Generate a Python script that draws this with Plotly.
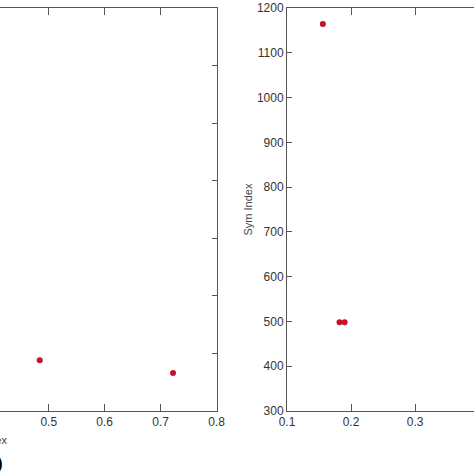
import plotly.graph_objects as go

# Left panel (partially visible)
left_x = [0.484, 0.722]
left_y = [88, 66]
# Right panel
right_x = [0.156, 0.182, 0.190]
right_y = [1164, 498, 498]

W = H = 474
red = "#c8102e"
axcol = "#555555"
tickfont = dict(family="Liberation Sans, Arial, sans-serif", size=12, color="#333333")
titlefont = dict(family="Liberation Sans, Arial, sans-serif", size=11, color="#444444")

fig = go.Figure()
fig.add_trace(go.Scatter(x=left_x, y=left_y, mode="markers", xaxis="x", yaxis="y",
                         marker=dict(color=red, size=6), showlegend=False, hoverinfo="skip"))
fig.add_trace(go.Scatter(x=right_x, y=right_y, mode="markers", xaxis="x2", yaxis="y2",
                         marker=dict(color=red, size=6), showlegend=False, hoverinfo="skip"))

ytop = 1 - 8 / H
ybot = 1 - 411 / H

fig.update_layout(
    width=W, height=H,
    margin=dict(l=0, r=0, t=0, b=0, autoexpand=False),
    paper_bgcolor="white", plot_bgcolor="white",
    xaxis=dict(domain=[0, 216.7 / W], range=[0.413, 0.8], tickvals=[0.5, 0.6, 0.7, 0.8],
               ticktext=["0.5", "0.6", "0.7", "0.8"],
               showgrid=False, zeroline=False, showline=True, linecolor=axcol, linewidth=1,
               mirror="allticks", ticks="inside", ticklen=7, tickcolor=axcol, tickfont=tickfont,
               anchor="y"),
    yaxis=dict(domain=[ybot, ytop], range=[0, 700], dtick=100, side="right",
               showgrid=False, zeroline=False, showline=True, linecolor=axcol, linewidth=1,
               ticks="inside", ticklen=5, tickcolor=axcol, showticklabels=False, anchor="x"),
    xaxis2=dict(domain=[287 / W, 1], range=[0.1, 0.392], tickvals=[0.1, 0.2, 0.3],
                ticktext=["0.1", "0.2", "0.3"],
                showgrid=False, zeroline=False, showline=True, linecolor=axcol, linewidth=1,
                mirror="allticks", ticks="inside", ticklen=7, tickcolor=axcol, tickfont=tickfont,
                anchor="y2"),
    yaxis2=dict(domain=[ybot, ytop], range=[300, 1200], dtick=100,
                showgrid=False, zeroline=False, showline=True, linecolor=axcol, linewidth=1,
                ticks="inside", ticklen=5, tickcolor=axcol, tickfont=tickfont, anchor="x2",
                title=dict(text="Sym Index", font=titlefont, standoff=2)),
    annotations=[
        dict(text="Index", x=9 / W, y=1 - 440 / H, xref="paper", yref="paper",
             xanchor="right", yanchor="middle", showarrow=False, font=titlefont),
        dict(text="<b>(a)</b>", x=5 / W, y=1 - 463 / H, xref="paper", yref="paper",
             xanchor="right", yanchor="middle", showarrow=False,
             font=dict(family="Liberation Sans, Arial, sans-serif", size=17, color="#000000")),
    ],
)

fig.write_html("out.html", config={"displayModeBar": False},
               post_script="document.body.style.margin='0';document.body.style.overflow='hidden';")
